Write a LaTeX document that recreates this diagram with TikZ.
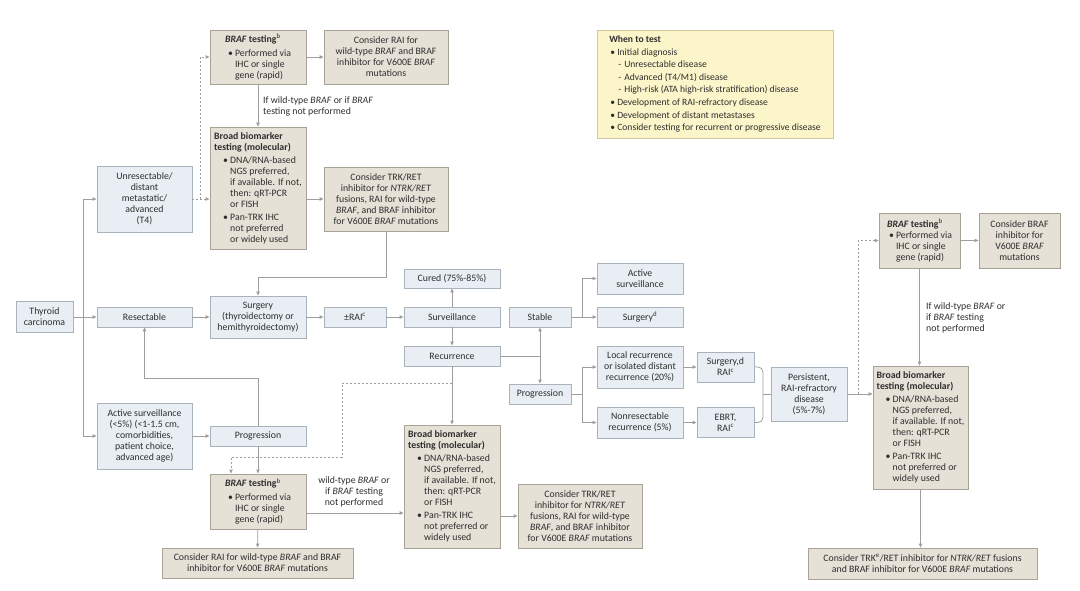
\documentclass[tikz,border=0pt]{standalone}
\usepackage{fontspec}
\setmainfont{Carlito}
\usetikzlibrary{arrows.meta, calc, positioning}

\definecolor{boxblue}{HTML}{E8EEF3}
\definecolor{boxtan}{HTML}{E6E1D7}
\definecolor{boxyel}{HTML}{FCF5CA}
\definecolor{edgeblue}{HTML}{A9B3BC}
\definecolor{edgetan}{HTML}{A9A397}
\definecolor{edgeyel}{HTML}{CFC8A2}
\definecolor{linegray}{HTML}{9E9E9E}
\definecolor{ink}{HTML}{2E2E2E}

\newcommand{\lbul}[1][9pt]{\hspace*{#1}\makebox[7pt][l]{\textbullet}}
\newcommand{\lcont}[1][16pt]{\hspace*{#1}}
\newcommand{\ldash}{\hspace*{9pt}\makebox[6pt][l]{-}}

\tikzset{
  box/.style={draw=edgeblue, fill=boxblue, text=ink, align=center, inner sep=1pt,
    line width=0.8pt, font=\fontsize{9.8}{11}\selectfont},
  tanbox/.style={box, draw=edgetan, fill=boxtan},
  listbox/.style={tanbox, align=left},
  notebox/.style={box, draw=edgeyel, fill=boxyel, align=left,
    font=\fontsize{9.6}{12.6}\selectfont},
  lbl/.style={text=ink, inner sep=0pt, font=\fontsize{9.8}{11}\selectfont},
  wire/.style={draw=linegray, line width=0.8pt},
  arr/.style={wire, -{Triangle[length=4pt,width=3.4pt]}},
  dsh/.style={dash pattern=on 2pt off 2pt}
}

\begin{document}
\begin{tikzpicture}[x=1pt, y=-1pt]
 \useasboundingbox (0,0) rectangle (1080,591);

 % first column
 \node[box, minimum width=57, minimum height=31] (thyroid) at (44.5,317) {Thyroid\\carcinoma};
 \node[box, minimum width=95, minimum height=66] (unres) at (144.5,199) {Unresectable/\\distant\\metastatic/\\advanced\\(T4)};
 \node[box, minimum width=95, minimum height=20] (resect) at (144.5,317) {Resectable};
 \node[box, minimum width=95, minimum height=66] (actsurv) at (144.5,436) {Active surveillance\\(<5\%) (<1-1.5 cm,\\comorbidities,\\patient choice,\\advanced age)};

 % unresectable branch
 \node[listbox, minimum width=96, minimum height=54] (brafA) at (258,57) {\textbf{\textit{BRAF} testing}\textsuperscript{b}\\[3pt]\lbul[3pt]Performed via\\\lcont[10pt]IHC or single\\\lcont[10pt]gene (rapid)};
 \node[tanbox, minimum width=124, minimum height=54] (raiA) at (386,57) {Consider RAI for\\wild-type \textit{BRAF} and BRAF\\inhibitor for V600E \textit{BRAF}\\mutations};
 \node[listbox, minimum width=96, minimum height=122] (broadA) at (258,188) {\textbf{Broad biomarker}\\\textbf{testing (molecular)}\\[2pt]\lbul DNA/RNA-based\\\lcont NGS preferred,\\\lcont if available. If not,\\\lcont then: qRT-PCR\\\lcont or FISH\\[2pt]\lbul Pan-TRK IHC\\\lcont not preferred\\\lcont or widely used};
 \node[tanbox, minimum width=124, minimum height=64] (trkA) at (386,199) {Consider TRK/RET\\inhibitor for \textit{NTRK/RET}\\fusions, RAI for wild-type\\\textit{BRAF}, and BRAF inhibitor\\for V600E \textit{BRAF} mutations};
 \node[lbl, anchor=west, align=left] (lblA) at (263,106) {If wild-type \textit{BRAF} or if \textit{BRAF}\\testing not performed};

 % resectable branch
 \node[box, minimum width=96, minimum height=42] (surgery) at (258,317) {Surgery\\(thyroidectomy or\\hemithyroidectomy)};
 \node[box, minimum width=62, minimum height=20] (rai) at (355,317) {±RAI\textsuperscript{c}};
 \node[box, minimum width=96, minimum height=20] (surv) at (452,317) {Surveillance};
 \node[box, minimum width=96, minimum height=19] (cured) at (452,278.5) {Cured (75\%-85\%)};
 \node[box, minimum width=96, minimum height=20] (recur) at (452,356) {Recurrence};
 \node[box, minimum width=62, minimum height=20] (stable) at (540,317) {Stable};
 \node[box, minimum width=62, minimum height=20] (progM) at (540,394) {Progression};
 \node[box, minimum width=86, minimum height=31] (actR) at (640,278.5) {Active\\surveillance};
 \node[box, minimum width=86, minimum height=20] (surgd) at (640,317) {Surgery\textsuperscript{d}};
 \node[box, minimum width=86, minimum height=42] (local) at (640,367) {Local recurrence\\or isolated distant\\recurrence (20\%)};
 \node[box, minimum width=86, minimum height=31] (nonres) at (640,422.5) {Nonresectable\\recurrence (5\%)};
 \node[box, minimum width=57, minimum height=30] (surgrai) at (725.5,367) {Surgery,d\\RAI\textsuperscript{c}};
 \node[box, minimum width=57, minimum height=30] (ebrt) at (725.5,422.5) {EBRT,\\RAI\textsuperscript{c}};
 \node[box, minimum width=76, minimum height=54] (persist) at (809,394) {Persistent,\\RAI-refractory\\disease\\(5\%-7\%)};

 % refractory branch
 \node[listbox, minimum width=81, minimum height=55] (brafR) at (919.5,240.5) {\textbf{\textit{BRAF} testing}\textsuperscript{b}\\\lbul[2pt]Performed via\\\lcont[9pt]IHC or single\\\lcont[9pt]gene (rapid)};
 \node[tanbox, minimum width=81, minimum height=55] (braiR) at (1019.5,240.5) {Consider BRAF\\inhibitor for\\V600E \textit{BRAF}\\mutations};
 \node[listbox, minimum width=95, minimum height=123] (broadR) at (920.5,427.5) {\textbf{Broad biomarker}\\\textbf{testing (molecular)}\\[2pt]\lbul DNA/RNA-based\\\lcont NGS preferred,\\\lcont if available. If not,\\\lcont then: qRT-PCR\\\lcont or FISH\\[2pt]\lbul Pan-TRK IHC\\\lcont not preferred or\\\lcont widely used};
 \node[tanbox, minimum width=229, minimum height=31] (trkR) at (922.5,563.5) {Consider TRK\textsuperscript{e}/RET inhibitor for \textit{NTRK/RET} fusions\\and BRAF inhibitor for V600E \textit{BRAF} mutations};
 \node[lbl, anchor=west, align=left] (lblR) at (926,318) {If wild-type \textit{BRAF} or\\if \textit{BRAF} testing\\not performed};

 % active surveillance branch
 \node[box, minimum width=96, minimum height=20] (progL) at (258,436) {Progression};
 \node[listbox, minimum width=96, minimum height=55] (brafL) at (258,501.5) {\textbf{\textit{BRAF} testing}\textsuperscript{b}\\[3pt]\lbul[3pt]Performed via\\\lcont[10pt]IHC or single\\\lcont[10pt]gene (rapid)};
 \node[tanbox, minimum width=191, minimum height=30] (raiL) at (257.5,563) {Consider RAI for wild-type \textit{BRAF} and BRAF\\inhibitor for V600E \textit{BRAF} mutations};
 \node[listbox, minimum width=96, minimum height=123] (broadL) at (452,486.5) {\textbf{Broad biomarker}\\\textbf{testing (molecular)}\\[2pt]\lbul DNA/RNA-based\\\lcont NGS preferred,\\\lcont if available. If not,\\\lcont then: qRT-PCR\\\lcont or FISH\\[2pt]\lbul Pan-TRK IHC\\\lcont not preferred or\\\lcont widely used};
 \node[tanbox, minimum width=124, minimum height=64] (trkL) at (580,516) {Consider TRK/RET\\inhibitor for \textit{NTRK/RET}\\fusions, RAI for wild-type\\\textit{BRAF}, and BRAF inhibitor\\for V600E \textit{BRAF} mutations};
 \node[lbl, align=center] (lblL) at (354,492) {wild-type \textit{BRAF} or\\if \textit{BRAF} testing\\not performed};

 % when to test
 \node[notebox, minimum width=236, minimum height=108] (when) at (715,84) {\textbf{When to test}\\\lbul[1pt]Initial diagnosis\\\ldash Unresectable disease\\\ldash Advanced (T4/M1) disease\\\ldash High-risk (ATA high-risk stratification) disease\\\lbul[1pt]Development of RAI-refractory disease\\\lbul[1pt]Development of distant metastases\\\lbul[1pt]Consider testing for recurrent or progressive disease};

 % junctions
 \coordinate (spine) at (83,317);
 \coordinate (dA) at (200,199);
 \coordinate (rj) at (540,356);
 \coordinate (sj) at (582,317);
 \coordinate (pj) at (582,394);
 \coordinate (bj) at (763,394);
 \coordinate (dR) at (858,394);
 \coordinate (dL) at (452,383);

 % connectors
 \draw[arr] (thyroid) -- (resect);
 \draw[arr] (spine) |- (unres.west);
 \draw[arr] (spine) |- (actsurv.west);
 \draw[arr] (resect) -- (surgery);
 \draw[arr] (surgery) -- (rai);
 \draw[arr] (rai) -- (surv);
 \draw[arr] (surv) -- (cured);
 \draw[arr] (surv) -- (recur);
 \draw[wire] (recur.east) -- (rj);
 \draw[arr] (rj) -- (stable.south);
 \draw[arr] (rj) -- (progM.north);
 \draw[arr] (stable) -- (surgd);
 \draw[arr] (sj) |- (actR.west);
 \draw[wire] (progM.east) -- (pj);
 \draw[arr] (pj) |- (local.west);
 \draw[arr] (pj) |- (nonres.west);
 \draw[arr] (local) -- (surgrai);
 \draw[arr] (nonres) -- (ebrt);
 \draw[wire, rounded corners=5pt] (surgrai.east) -| (bj) |- (ebrt.east);
 \draw[wire] (bj) -- (persist.west);

 \draw[arr, dsh] (unres.east) -- (unres.east -| broadA.west);
 \draw[arr, dsh] (dA) |- (brafA.west);
 \draw[arr] (brafA) -- (raiA);
 \draw[arr] (brafA) -- (broadA);
 \draw[arr] (trkA.west -| broadA.east) -- (trkA.west);
 \draw[arr] (trkA.south) -- ++(0,46) -| (surgery.north);

 \draw[arr] (persist.east) -- (persist.east -| broadR.west);
 \draw[arr, dsh] (dR) |- (brafR.west);
 \draw[arr] (brafR) -- (braiR);
 \draw[arr] (brafR.south) -- (brafR.south |- broadR.north);
 \draw[arr] (broadR.south) -- (broadR.south |- trkR.north);

 \draw[arr] (actsurv.east |- progL.west) -- (progL.west);
 \draw[arr] (progL.north) -- ++(0,-47) -| (resect.south);
 \draw[arr] (progL) -- (brafL);
 \draw[arr] (brafL) -- (raiL);
 \draw[arr] ([yshift=-11.5pt]brafL.east) -- ([yshift=-11.5pt]brafL.east -| broadL.west);
 \draw[arr] (recur) -- (broadL);
 \draw[arr, dsh] (dL) -| (342,457) -| ([xshift=-27pt]brafL.north);
 \draw[arr] (trkL.west -| broadL.east) -- (trkL.west);
\end{tikzpicture}
\end{document}
